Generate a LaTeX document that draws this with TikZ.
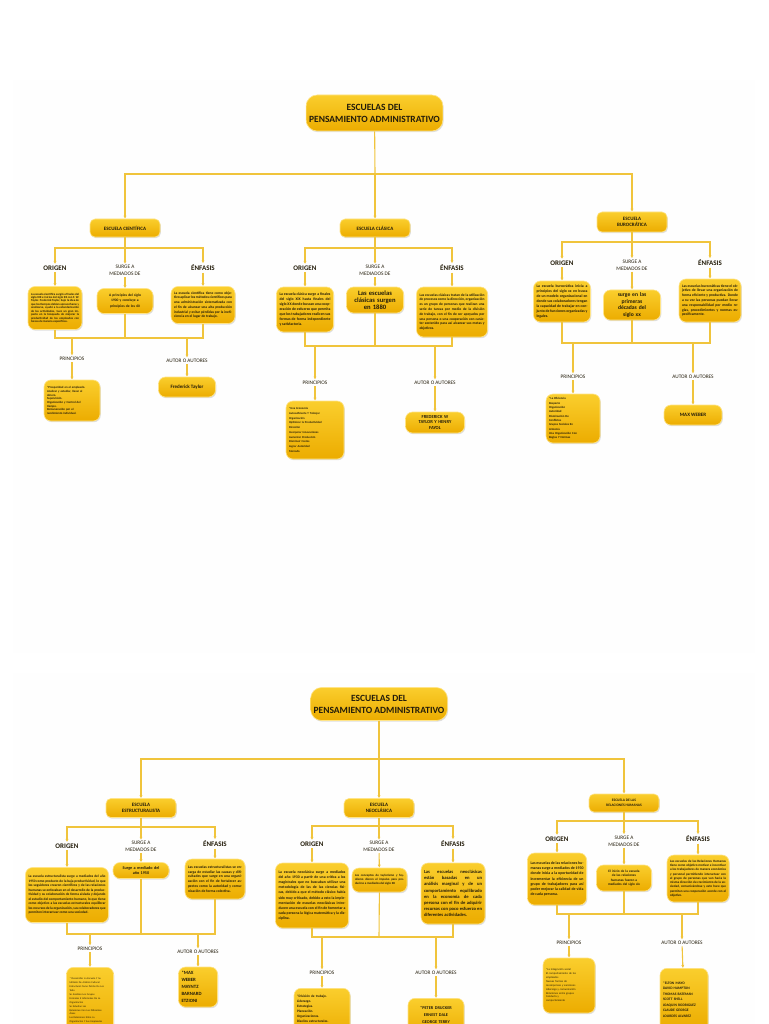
\documentclass[tikz,border=0pt]{standalone}
\usepackage{fontspec}
\setmainfont{Carlito}
\usetikzlibrary{arrows.meta, positioning, shadows}
\definecolor{goldTop}{RGB}{250,206,45}
\definecolor{goldBottom}{RGB}{236,172,0}
\definecolor{goldEdge}{RGB}{255,228,135}
\definecolor{lineGold}{RGB}{240,196,60}
\definecolor{pageTint}{RGB}{254,254,254}
\definecolor{inkDark}{RGB}{35,28,10}

\begin{document}
\begin{tikzpicture}[
    x=1pt, y=-1pt,
    every node/.style={text=inkDark},
    conn/.style={draw=lineGold, line width=1.1pt},
    arrow/.style={conn, -{Latex[length=3pt, width=3.2pt]}},
    pill/.style={
        rounded corners=7pt, top color=goldTop, bottom color=goldBottom,
        draw=goldEdge, line width=0.6pt, inner sep=3pt, align=center,
        drop shadow={opacity=0.25, shadow xshift=0.8pt, shadow yshift=-1.2pt}
    },
    titlebox/.style={pill, rounded corners=11pt, font=\fontsize{9.5}{12}\selectfont\bfseries},
    school/.style={pill, rounded corners=5pt, inner sep=1pt, minimum width=70pt,
        minimum height=18pt, font=\fontsize{5}{6}\selectfont\bfseries},
    head/.style={inner sep=1.5pt, font=\fontsize{7}{8}\selectfont\bfseries},
    subhead/.style={inner sep=1.5pt, align=center, font=\fontsize{5.3}{6.6}\selectfont},
    info/.style={pill, align=justify, font=\fontsize{3.1}{3.5}\selectfont\bfseries},
    list/.style={pill, align=left, font=\fontsize{2.9}{3.6}\selectfont\bfseries},
    note/.style={pill, font=\fontsize{5}{6}\selectfont\bfseries}
]
    \useasboundingbox (0,0) rectangle (768,1024);
    \fill[pageTint] (13,80) rectangle (755,653);
    \fill[pageTint] (13,673) rectangle (755,1024);

    % ---------- page 1 ----------
    \node[titlebox, minimum width=135pt, minimum height=36pt] (titulo1) at (374.5,113)
        {ESCUELAS DEL\\PENSAMIENTO ADMINISTRATIVO};
    \coordinate (bus1) at (375,174);
    \node[school] (cie) at (125,228) {ESCUELA CIENTÍFICA};
    \node[school] (cla) at (375,228) {ESCUELA CLÁSICA};
    \node[school, minimum height=20pt] (bur) at (632,222) {ESCUELA\\BUROCRÁTICA};

    \draw[conn] (titulo1) -- (bus1);
    \draw[arrow] (bus1) -| (cie);
    \draw[arrow] (bus1) -- (cla);
    \draw[arrow] (bus1) -| (bur);

    % escuela cientifica
    \coordinate (cieTop) at (125,248);
    \coordinate (cieJ) at (125,338);
    \node[head] (cieOri) at (55,268) {ORIGEN};
    \node[subhead] (cieSur) at (125,270.5) {SURGE A\\MEDIADOS DE};
    \node[head] (cieEnf) at (203,268) {ÉNFASIS};
    \node[info, text width=48pt, minimum height=43pt, font=\fontsize{3}{3.45}\selectfont\bfseries] (cieOriT) at (55,308)
        {La escuela científica surgió a finales del siglo XIX e inicios del siglo XX con F. W. Taylor. Frederick Taylor, bajo la idea de que los tiempos debían aprovecharse y analizarse, ayudó a la estandarización de las actividades, tuvo un gran impacto en la búsqueda de mejorar la productividad de los empleados con tareas de manera específicas.};
    \node[note, text width=50pt, minimum height=25pt, font=\fontsize{3.6}{5.2}\selectfont\bfseries] (cieSurT) at (125,301)
        {A principios del siglo\\1900 y concluye a\\principios de los 60};
    \node[info, text width=58pt, minimum height=37pt, font=\fontsize{3.6}{4.7}\selectfont\bfseries] (cieEnfT) at (203,305)
        {La escuela científica tiene como objetivo aplicar los métodos científicos para una administración sistematizada con el fin de alcanzar una alta producción industrial y evitar pérdidas por la ineficiencia en el lugar de trabajo.};
    \node[subhead] (ciePri) at (72,359) {PRINCIPIOS};
    \node[subhead] (cieAut) at (187,361) {AUTOR O AUTORES};
    \node[list, text width=50pt, minimum height=41pt, font=\fontsize{3}{3.7}\selectfont\bfseries] (ciePriT) at (72,400.5)
        {*Prosperidad en el empleado.\\*Analizar y estudiar, llevar al\\ obrero.\\*Supervisión.\\*Organización y Control del\\ tiempo.\\*Remuneración por el\\ rendimiento individual.};
    \node[note, minimum width=57pt, minimum height=20pt] (cieAutT) at (187,387) {Frederick Taylor};

    \draw[conn] (cie) -- (cieTop);
    \draw[arrow] (cieTop) -| (cieOri);
    \draw[arrow] (cieTop) -- (cieSur);
    \draw[arrow] (cieTop) -| (cieEnf);
    \draw[arrow] (cieOri) -- (cieOriT);
    \draw[arrow] (cieSur) -- (cieSurT);
    \draw[arrow] (cieEnf) -- (cieEnfT);
    \draw[conn] (cieOriT) |- (cieJ) -| (cieEnfT);
    \draw[conn] (cieSurT) -- (cieJ);
    \draw[arrow] (cieJ) -| (ciePri);
    \draw[arrow] (cieJ) -| (cieAut);
    \draw[arrow] (ciePri) -- (ciePriT);
    \draw[arrow] (cieAut) -- (cieAutT);

    % escuela clasica
    \coordinate (claTop) at (375,248);
    \coordinate (claJ) at (375,346);
    \node[head] (claOri) at (305,268) {ORIGEN};
    \node[subhead] (claSur) at (375,270.5) {SURGE A\\MEDIADOS DE};
    \node[head] (claEnf) at (452,268) {ÉNFASIS};
    \node[info, text width=51pt, minimum height=45pt, font=\fontsize{3.8}{5.1}\selectfont\bfseries] (claOriT) at (305,309.5)
        {La escuela clásica surge a finales del siglo XIX hasta finales del siglo XX donde buscan una cooperación de esfuerzo que permita que los trabajadores realicen sus formas de forma independiente y satisfactoria.};
    \node[note, text width=51pt, minimum height=26pt, font=\fontsize{6.6}{7.2}\selectfont\bfseries] (claSurT) at (375,300)
        {Las escuelas\\clásicas surgen\\en 1880};
    \node[info, text width=65pt, minimum height=50pt, font=\fontsize{3.6}{4.8}\selectfont\bfseries] (claEnfT) at (452,312)
        {Las escuelas clásicas tratan de la utilización de procesos como la dirección, organización es un grupo de personas que realizan una serie de tareas por medio de la división de trabajo, con el fin de ser apoyados por una persona o una cooperación con carácter sostenido para así alcanzar sus metas y objetivos.};
    \node[subhead] (claPri) at (315,383) {PRINCIPIOS};
    \node[subhead] (claAut) at (435,383) {AUTOR O AUTORES};
    \node[list, text width=52pt, minimum height=58pt, font=\fontsize{2.9}{4.7}\selectfont\bfseries] (claPriT) at (315,430)
        {*Una Economía\\ Autosuficiente Y Trabajar\\*Organización\\*Optimizar la Productividad\\*Dirección\\*Incorporar Innovaciones\\*Aumentar Producción\\*Disminuir Costos\\*Lograr Autoridad\\*Mercado};
    \node[note, text width=53pt, minimum height=21pt, font=\fontsize{4.6}{5.8}\selectfont\bfseries] (claAutT) at (435,422.5)
        {FREDERICK W\\TAYLOR Y HENRY\\FAYOL};

    \draw[conn] (cla) -- (claTop);
    \draw[arrow] (claTop) -| (claOri);
    \draw[arrow] (claTop) -- (claSur);
    \draw[arrow] (claTop) -| (claEnf);
    \draw[arrow] (claOri) -- (claOriT);
    \draw[arrow] (claSur) -- (claSurT);
    \draw[arrow] (claEnf) -- (claEnfT);
    \draw[conn] (claOriT) |- (claJ) -| (claEnfT);
    \draw[conn] (claSurT) -- (claJ);
    \draw[arrow] (claJ) -| (claPri);
    \draw[arrow] (claJ) -| (claAut);
    \draw[arrow] (claPri) -- (claPriT);
    \draw[arrow] (claAut) -- (claAutT);

    % escuela burocratica
    \coordinate (burTop) at (632,242);
    \coordinate (burJ) at (632,343);
    \node[head] (burOri) at (562,263) {ORIGEN};
    \node[subhead] (burSur) at (632,265) {SURGE A\\MEDIADOS DE};
    \node[head] (burEnf) at (710,263) {ÉNFASIS};
    \node[info, text width=51pt, minimum height=41pt, font=\fontsize{3.8}{4.9}\selectfont\bfseries] (burOriT) at (562,301.5)
        {La escuela burocrática inicia a principios del siglo xx en busca de un modelo organizacional en donde sus colaboradores tengan la capacidad de trabajar en conjunto de funciones organizadas y legales.};
    \node[note, text width=51pt, minimum height=30pt, font=\fontsize{5.6}{6.4}\selectfont\bfseries] (burSurT) at (632,305)
        {surge en las\\primeras\\décadas del\\siglo xx};
    \node[info, text width=56pt, minimum height=43pt, font=\fontsize{3.7}{4.8}\selectfont\bfseries] (burEnfT) at (710,300.5)
        {Las escuelas burocráticas tiene el objetivo de llevar una organización de forma eficiente y productiva. Donde a su vez las personas puedan llevar una responsabilidad por medio reglas, procedimientos y normas específicamente.};
    \node[subhead] (burPri) at (573,377) {PRINCIPIOS};
    \node[subhead] (burAut) at (693,377) {AUTOR O AUTORES};
    \node[list, text width=48pt, minimum height=49pt, font=\fontsize{3}{4.3}\selectfont\bfseries] (burPriT) at (573,418.5)
        {*La Eficiencia\\*Respecto\\*Organización\\*Autoridad\\*Disminución De\\ Conflictos\\*Grupos Sociales En\\ Armonía\\*Una Organización Con\\ Reglas Y Normas};
    \node[note, minimum width=58pt, minimum height=20pt] (burAutT) at (693,415) {MAX WEBER};

    \draw[conn] (bur) -- (burTop);
    \draw[arrow] (burTop) -| (burOri);
    \draw[arrow] (burTop) -- (burSur);
    \draw[arrow] (burTop) -| (burEnf);
    \draw[arrow] (burOri) -- (burOriT);
    \draw[arrow] (burSur) -- (burSurT);
    \draw[arrow] (burEnf) -- (burEnfT);
    \draw[conn] (burOriT) |- (burJ) -| (burEnfT);
    \draw[conn] (burSurT) -- (burJ);
    \draw[arrow] (burJ) -| (burPri);
    \draw[arrow] (burJ) -| (burAut);
    \draw[arrow] (burPri) -- (burPriT);
    \draw[arrow] (burAut) -- (burAutT);

    % ---------- page 2 ----------
    \node[titlebox, minimum width=128pt, minimum height=33pt] (titulo2) at (379,704)
        {ESCUELAS DEL\\PENSAMIENTO ADMINISTRATIVO};
    \coordinate (bus2) at (379,759);
    \node[school, minimum height=19pt] (est) at (141,808) {ESCUELA\\ESTRUCTURALISTA};
    \node[school, minimum height=19pt] (neo) at (379,808) {ESCUELA\\NEOCLÁSICA};
    \node[school, font=\fontsize{3.6}{4.4}\selectfont\bfseries] (rel) at (624,803) {ESCUELA DE LAS\\RELACIONES HUMANAS};

    \draw[conn] (titulo2) -- (bus2);
    \draw[arrow] (bus2) -| (est);
    \draw[arrow] (bus2) -- (neo);
    \draw[arrow] (bus2) -| (rel);

    % escuela estructuralista
    \coordinate (estTop) at (141,827);
    \coordinate (estJ) at (141,934);
    \node[head] (estOri) at (67,846) {ORIGEN};
    \node[subhead] (estSur) at (141,846.5) {SURGE A\\MEDIADOS DE};
    \node[head] (estEnf) at (215,844) {ÉNFASIS};
    \node[info, text width=77pt, minimum height=55pt, font=\fontsize{3.5}{4.5}\selectfont\bfseries] (estOriT) at (67,895)
        {La escuela estructuralista surge a mediados del año 1950 como producto de la baja productividad, lo que los seguidores crearon científicos y de las relaciones humanas se enfocaban en el desarrollo de la productividad y su colaboración de forma aislada y dejando el estudio del comportamiento humano, lo que tiene como objetivo a las escuelas estructurales equilibrar los recursos de la organización, sus colaboradores que permiten interactuar como una sociedad.};
    \node[note, text width=50pt, minimum height=16pt, font=\fontsize{4.2}{5}\selectfont\bfseries] (estSurT) at (141,870.5)
        {Surge a mediado del\\año 1950};
    \node[info, text width=54pt, minimum height=40pt, font=\fontsize{3.7}{4.7}\selectfont\bfseries] (estEnfT) at (215,879)
        {Las escuelas estructuralistas se encarga de estudiar las causas y dificultades que surge en una organización con el fin de fortalecer aspectos como la autoridad y comunicación de forma colectiva.};
    \node[subhead] (estPri) at (90,949) {PRINCIPIOS};
    \node[subhead] (estAut) at (198,952) {AUTOR O AUTORES};
    \node[list, anchor=north, text width=41pt, minimum height=70pt, font=\fontsize{2.6}{3.9}\selectfont] (estPriT) at (90,967)
        {* Desarrollar La Escuela Y Su\\ Método De Análisis Cultural\\ Estructural Como Patrón De Los\\ Todo\\*Se Analizan Los Grupos\\ Formales E Informales De La\\ Organización\\*Se Estudian Las\\ Relaciones Con Las Diferentes\\ Áreas\\*Las Relaciones Entre La\\ Organización Y Sus Empleados\\*Los Conflictos};
    \node[list, text width=33pt, minimum height=40pt, font=\fontsize{4.8}{7}\selectfont\bfseries] (estAutT) at (198,987)
        {*MAX\\WEBER\\*MAYNTZ\\*BARNARD\\*ETZIONI};

    \draw[conn] (est) -- (estTop);
    \draw[arrow] (estTop) -| (estOri);
    \draw[arrow] (estTop) -- (estSur);
    \draw[arrow] (estTop) -| (estEnf);
    \draw[arrow] (estOri) -- (estOriT);
    \draw[arrow] (estSur) -- (estSurT);
    \draw[arrow] (estEnf) -- (estEnfT);
    \draw[conn] (estOriT) |- (estJ) -| (estEnfT);
    \draw[conn] (estSurT) -- (estJ);
    \draw[arrow] (estJ) -| (estPri);
    \draw[arrow] (estJ) -| (estAut);
    \draw[arrow] (estPri) -- (estPriT);
    \draw[arrow] (estAut) -- (estAutT);

    % escuela neoclasica
    \coordinate (neoTop) at (379,826);
    \coordinate (neoJ) at (379,937);
    \node[head] (neoOri) at (312,844) {ORIGEN};
    \node[subhead] (neoSur) at (379,846.5) {SURGE A\\MEDIADOS DE};
    \node[head] (neoEnf) at (453,844) {ÉNFASIS};
    \node[info, text width=67pt, minimum height=65pt, font=\fontsize{3.8}{5.1}\selectfont\bfseries] (neoOriT) at (312,895.5)
        {La escuela neoclásica surge a mediados del año 1930 a partir de una crítica a los magistrales que no buscaban utilizar una metodología de las de las ciencias físicas, debido a que el método clásico había sido muy criticado, debido a esto la implementación de escuelas neoclásicas introducen una escuela con el fin de fomentar a cada persona la lógica matemática y la disciplina.};
    \node[note, text width=49pt, minimum height=24pt, align=justify, font=\fontsize{3.1}{4}\selectfont\bfseries] (neoSurT) at (379.5,880)
        {Los conceptos de taylorismo y fayolismo dieron el impulso para producirse a mediados del siglo XX};
    \node[info, text width=58pt, minimum height=61pt, font=\fontsize{4.6}{6.2}\selectfont\bfseries] (neoEnfT) at (453,893.5)
        {Las escuelas neoclásicas están basadas en un análisis marginal y de un comportamiento equilibrado en la economía de cada persona con el fin de adquirir recursos con poco esfuerzo en diferentes actividades.};
    \node[subhead] (neoPri) at (322,973) {PRINCIPIOS};
    \node[subhead] (neoAut) at (436,973) {AUTOR O AUTORES};
    \node[list, anchor=north, text width=50pt, minimum height=50pt, font=\fontsize{3.4}{5}\selectfont\bfseries] (neoPriT) at (322,988)
        {*División de trabajo.\\*Liderazgo.\\*Estrategias.\\*Planeación.\\*Organizaciones.\\*Diseños estructurales.\\*Control.\\*Dirección.};
    \node[note, anchor=north, text width=50pt, minimum height=40pt, font=\fontsize{4.3}{6.6}\selectfont\bfseries] (neoAutT) at (436,998)
        {*PETER DRUCKER\\*ERNEST DALE\\*GEORGE TERRY\\*HAROLD KOONTZ};

    \draw[conn] (neo) -- (neoTop);
    \draw[arrow] (neoTop) -| (neoOri);
    \draw[arrow] (neoTop) -- (neoSur);
    \draw[arrow] (neoTop) -| (neoEnf);
    \draw[arrow] (neoOri) -- (neoOriT);
    \draw[arrow] (neoSur) -- (neoSurT);
    \draw[arrow] (neoEnf) -- (neoEnfT);
    \draw[conn] (neoOriT) |- (neoJ) -| (neoEnfT);
    \draw[conn] (neoSurT) -- (neoJ);
    \draw[arrow] (neoJ) -| (neoPri);
    \draw[arrow] (neoJ) -| (neoAut);
    \draw[arrow] (neoPri) -- (neoPriT);
    \draw[arrow] (neoAut) -- (neoAutT);

    % escuela de las relaciones humanas
    \coordinate (relTop) at (624,821);
    \coordinate (relJ) at (624,914);
    \node[head] (relOri) at (557,839) {ORIGEN};
    \node[subhead] (relSur) at (624,841) {SURGE A\\MEDIADOS DE};
    \node[head] (relEnf) at (698,839) {ÉNFASIS};
    \node[info, text width=53pt, minimum height=52pt, font=\fontsize{3.9}{5.3}\selectfont\bfseries] (relOriT) at (557,879)
        {Las escuelas de las relaciones humanas surge a mediados de 1930 donde inicia a la oportunidad de incrementar la eficiencia de un grupo de trabajadores para así poder mejorar la calidad de vida de cada persona.};
    \node[note, text width=49pt, minimum height=26pt, font=\fontsize{3.4}{4.6}\selectfont\bfseries] (relSurT) at (624,878)
        {El inicio de la escuela\\de las relaciones\\humanas fueron a\\mediados del siglo xix};
    \node[info, text width=56pt, minimum height=47pt, font=\fontsize{3.3}{4.3}\selectfont\bfseries] (relEnfT) at (698,878.5)
        {Las escuelas de las Relaciones Humanas tiene como objetivo motivar e incentivar a los trabajadores de manera económica y personal permitiendo interactuar con el grupo de personas que van hacia la misma dirección de crecimiento de la sociedad, comunicándose y esto hace que permitan una cooperación acorde con el objetivo.};
    \node[subhead] (relPri) at (569,943) {PRINCIPIOS};
    \node[subhead] (relAut) at (682,943) {AUTOR O AUTORES};
    \node[list, text width=46pt, minimum height=55pt, font=\fontsize{2.8}{3.9}\selectfont] (relPriT) at (569,985.5)
        {*La integración social\\ El comportamiento de los\\ empleados\\* Nuevas formas de\\ recompensas y sanciones\\* Liderazgo y comunicación\\*Relaciones entre grupos\\* Conducta y\\ comportamiento};
    \node[list, anchor=north, text width=42pt, minimum height=62pt, font=\fontsize{3.6}{5.5}\selectfont\bfseries] (relAutT) at (684,968)
        {*ELTON MAYO\\*DAVID HAMPTON\\*THOMAS BATEMAN\\*SCOTT SHELL\\*JOAQUIN RODRIGUEZ\\*CLAUDE GEORGE\\*LOURDES ALVAREZ};

    \draw[conn] (rel) -- (relTop);
    \draw[arrow] (relTop) -| (relOri);
    \draw[arrow] (relTop) -- (relSur);
    \draw[arrow] (relTop) -| (relEnf);
    \draw[arrow] (relOri) -- (relOriT);
    \draw[arrow] (relSur) -- (relSurT);
    \draw[arrow] (relEnf) -- (relEnfT);
    \draw[conn] (relOriT) |- (relJ) -| (relEnfT);
    \draw[conn] (relSurT) -- (relJ);
    \draw[arrow] (relJ) -| (relPri);
    \draw[arrow] (relJ) -| (relAut);
    \draw[arrow] (relPri) -- (relPriT);
    \draw[arrow] (relAut) -- (relAutT);
\end{tikzpicture}
\end{document}
